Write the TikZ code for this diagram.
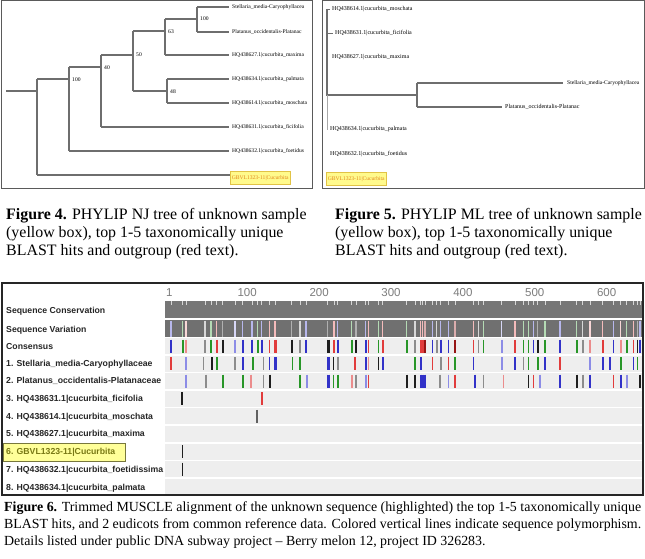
\documentclass[tikz,border=0pt]{standalone}
\usepackage{fontspec}
\setmainfont{Liberation Serif}
\newfontfamily\lsans{Liberation Sans}
\definecolor{treeg}{RGB}{110,110,110}
\definecolor{frameg}{RGB}{90,90,90}
\definecolor{boxfill}{RGB}{255,250,140}
\definecolor{boxdraw}{RGB}{225,195,70}
\definecolor{boxtext}{RGB}{225,135,30}
\definecolor{cb}{RGB}{50,50,200}
\definecolor{cg}{RGB}{40,150,40}
\definecolor{cr}{RGB}{225,60,60}
\definecolor{ck}{RGB}{30,30,30}
\definecolor{cy}{RGB}{140,140,140}
\definecolor{cl}{RGB}{140,140,230}
\definecolor{cp}{RGB}{235,140,140}
\definecolor{cdr}{RGB}{150,20,20}
\definecolor{rowbg}{RGB}{238,238,238}
\definecolor{bandg}{RGB}{118,118,118}
\definecolor{rulerg}{RGB}{125,125,125}
\definecolor{labyel}{RGB}{255,255,153}
\definecolor{labyeltext}{RGB}{120,120,20}
\definecolor{labyeldraw}{RGB}{120,120,60}
\tikzset{
  branch/.style={draw=treeg, line width=1.8pt},
  thinbranch/.style={draw=treeg, line width=0.8pt},
  leaf/.style={anchor=west, inner sep=0pt, font=\fontsize{5.6}{6}\selectfont},
  leaffive/.style={anchor=west, inner sep=0pt, font=\fontsize{6}{6.5}\selectfont},
  boot/.style={anchor=west, inner sep=0pt, font=\fontsize{5.6}{6}\selectfont},
  unkbox/.style={anchor=west, inner sep=1.5pt, minimum height=13pt, fill=boxfill, draw=boxdraw, line width=0.6pt, text=boxtext, font=\fontsize{5.6}{6}\selectfont},
  panel/.style={draw=frameg, line width=1pt},
  captxt/.style={anchor=base west, inner sep=0pt, font=\fontsize{15.9}{18}\selectfont},
  captxtsix/.style={anchor=base west, inner sep=0pt, font=\fontsize{13.9}{16}\selectfont},
  rowlabel/.style={anchor=west, inner sep=0pt, font=\lsans\bfseries\fontsize{8.7}{10}\selectfont, text=black!85},
  ruler/.style={anchor=west, inner sep=0pt, font=\lsans\fontsize{11.5}{12}\selectfont, text=rulerg},
}
\newcommand\seqlines[2]{\foreach \x/\c in {#2} \draw[color=\c, line width=1.6pt] (\x,{339.5+17.6*#1}) -- (\x,{352.5+17.6*#1});}
\begin{document}
\begin{tikzpicture}[x=1pt,y=-1pt]
\useasboundingbox (0,0) rectangle (645,559);
\fill[white] (0,0) rectangle (645,559);

% ---------------- Figure 4 panel ----------------
\draw[panel] (1,0.5) rectangle (312,188);
\coordinate (t4r) at (6,91);
\coordinate (j0t) at (37,79);  \coordinate (j0b) at (37,175);
\coordinate (j1t) at (69,67);  \coordinate (j1b) at (69,151);
\coordinate (j2t) at (101,55); \coordinate (j2b) at (101,127);
\coordinate (j3t) at (133,31); \coordinate (j3b) at (133,91);
\coordinate (j4t) at (165,19); \coordinate (j4b) at (165,55);
\coordinate (j5t) at (167,79); \coordinate (j5b) at (167,103);
\coordinate (j6t) at (197,7);  \coordinate (j6b) at (197,32);

\node[leaf] (l1) at (232,7) {Stellaria\_media-Caryophyllacea};
\node[leaf] (l2) at (232,32) {Platanus\_occidentalis-Platanac};
\node[leaf] (l3) at (232,55) {HQ438627.1|cucurbita\_maxima};
\node[leaf] (l4) at (232,79) {HQ438634.1|cucurbita\_palmata};
\node[leaf] (l5) at (232,103) {HQ438614.1|cucurbita\_moschata};
\node[leaf] (l6) at (232,127) {HQ438631.1|cucurbita\_ficifolia};
\node[leaf] (l7) at (232,151) {HQ438632.1|cucurbita\_foetidus};
\node[unkbox] (l8) at (230,178) {GBVL1323-11|Cucurbita};

\draw[branch] (t4r) -- (37,91);
\draw[branch] (j0t) -- (j0b);
\draw[branch] (j0t) -- (69,79);
\draw[branch] (j1t) -- (j1b);
\draw[branch] (j1t) -- (101,67);
\draw[branch] (j2t) -- (j2b);
\draw[branch] (j2t) -- (133,55);
\draw[branch] (j3t) -- (j3b);
\draw[branch] (j3t) -- (165,31);
\draw[branch] (j4t) -- (j4b);
\draw[branch] (j3b) -- (167,91);
\draw[branch] (j5t) -- (j5b);
\draw[branch] (j4t) -- (197,19);
\draw[branch] (j6t) -- (j6b);
\draw[branch, shorten >=3pt] (j6t) -- (l1.west);
\draw[branch, shorten >=3pt] (j6b) -- (l2.west);
\draw[branch, shorten >=3pt] (j4b) -- (l3.west);
\draw[branch, shorten >=3pt] (j5t) -- (l4.west);
\draw[branch, shorten >=3pt] (j5b) -- (l5.west);
\draw[branch, shorten >=3pt] (j2b) -- (l6.west);
\draw[branch, shorten >=3pt] (j1b) -- (l7.west);
\draw[branch] (j0b) -- (l8.west |- j0b);

\node[boot] (b1) at (72,80) {100};
\node[boot] (b2) at (104,68) {40};
\node[boot] (b3) at (136,55) {50};
\node[boot] (b4) at (168,32) {63};
\node[boot] (b5) at (170,92) {48};
\node[boot] (b6) at (200,19) {100};

% ---------------- Figure 5 panel ----------------
\draw[panel] (322,0.5) rectangle (644,188);
\coordinate (k0t) at (327,9);
\coordinate (k0) at (327,95);
\coordinate (k0b) at (327,130);
\coordinate (k1) at (417,95);
\coordinate (k1t) at (417,83);
\coordinate (k1b) at (417,107);
\coordinate (k0m) at (327,33);

\node[leaffive] (m1) at (332,9) {HQ438614.1|cucurbita\_moschata};
\node[leaffive] (m2) at (335,33) {HQ438631.1|cucurbita\_ficifolia};
\node[leaffive] (m3) at (332,57) {HQ438627.1|cucurbita\_maxima};
\node[leaffive] (m4) at (330,129) {HQ438634.1|cucurbita\_palmata};
\node[leaffive] (m5) at (330,154) {HQ438632.1|cucurbita\_foetidus};
\node[unkbox] (m6) at (326,179) {GBVL1323-11|Cucurbita};
\node[leaf] (m7) at (567,83) {Stellaria\_media-Caryophyllacea};
\node[leaffive] (m8) at (505,107) {Platanus\_occidentalis-Platanac};

\draw[branch] (k0t) -- (k0) -- (k1);
\draw[thinbranch, draw=treeg!60] (k0) -- (k0b);
\draw[thinbranch] (k0t) -- ([xshift=-2pt]m1.west);
\draw[thinbranch] (k0m) -- ([xshift=-2pt]m2.west);
\draw[branch] (k1t) -- (k1b);
\draw[branch, shorten >=4pt] (k1t) -- (m7.west);
\draw[branch, shorten >=3pt] (k1b) -- (m8.west);

% ---------------- Captions 4 and 5 ----------------
\node[captxt] (c4a) at (6,219) {\textbf{Figure 4.} PHYLIP NJ tree of unknown sample};
\node[captxt] (c4b) at (6,237) {(yellow box), top 1-5 taxonomically unique};
\node[captxt] (c4c) at (6,255) {BLAST hits and outgroup (red text).};
\node[captxt] (c5a) at (335,219) {\textbf{Figure 5.} PHYLIP ML tree of unknown sample};
\node[captxt] (c5b) at (335,237) {(yellow box), top 1-5 taxonomically unique};
\node[captxt] (c5c) at (335,255) {BLAST hits and outgroup (red text).};

% ---------------- Figure 6 panel ----------------
\fill[bandg] (165,301) rectangle (642,318);
\fill[bandg!95!black] (165,320) rectangle (642,337);
\foreach \i in {0,...,8} \fill[rowbg] (165,{338+17.6*\i}) rectangle (642,{354+17.6*\i});

\node[ruler] (r1) at (166,293) {1};
\foreach \k in {100,200,300,400,500,600} \node[ruler] (r\k) at ({165.5+0.719*\k},293) {\k};

\foreach \x/\c in {171/cb,182.7/cg,186/cp,205/cy,211/cg,216.7/cr,222.7/ck,235/cl,242.7/cb,252/cb,257.7/cg,261.7/cb,269.3/cr,275/cr,291.7/ck,300/cy,306/cb,327.3/ck,334/cr,337.7/cb,351.7/cg,356/ck,365.7/cb,368.3/cr,378.3/cg,382.7/cr,406.7/cg,415/cy,420.7/cr,422.7/cr,425/cdr,432.3/cb,436.7/cy,440.7/cb,448.3/cb,455/cdr,473.3/cr,478.3/cy,483.3/cg,501.7/cl,515/cr,523.3/cg,528.3/cg,533.3/cb,537.7/ck,545/cg,560/cb,576.7/cg,582.7/cy,590/cp,602.7/cr,613.3/cb,620.7/cp,626.7/cg,633.3/cr,637.3/ck,640/cb}{
  \draw[color=white!70!bandg, line width=0.8pt] (\x,301) -- (\x,304.5);
  \draw[color=\c!35!white, line width=1.3pt] (\x,320.5) -- (\x,336.5);
}

\seqlines{0}{171/cb,182.7/cg,186/cp,205/cy,211/cg,216.7/cr,222.7/ck,235/cl,242.7/cb,252/cb,257.7/cg,261.7/cb,269.3/cr,275/cr,276.5/cr,291.7/ck,300/cy,306/cb,327.3/ck,328.8/ck,334/cr,337.7/cb,351.7/cg,356/ck,365.7/cb,368.3/cr,378.3/cg,382.7/cr,406.7/cg,415/cy,420.7/cr,422.7/cr,425/cdr,432.3/cb,436.7/cy,440.7/cb,448.3/cb,455/cdr,473.3/cr,478.3/cy,483.3/cg,501.7/cl,515/cr,523.3/cg,528.3/cg,533.3/cb,537.7/ck,545/cg,560/cb,576.7/cg,582.7/cy,590/cp,602.7/cr,613.3/cb,620.7/cp,626.7/cg,633.3/cr,637.3/ck,640/cb}
\seqlines{1}{171/cr,186/cl,203.3/cy,211.7/ck,216.7/cg,235/cy,242.7/cb,252.7/cg,263.3/cy,269.3/cb,275/cb,276.5/cb,292.3/cg,300/cg,327.3/cb,328.8/cb,333.3/ck,337.7/cy,355/cr,365.7/cb,368.3/cp,378.3/ck,382.7/cb,415/cg,420.7/cb,432.3/cr,440.7/cy,448.3/cr,455/cg,473.3/cb,501.7/cl,515/cb,523.3/cy,528.3/cg,537.7/cg,545/cb,560/cr,590/cl,602.7/cb,610/cb,620.7/cg,633.3/cb,637.3/cg}
\seqlines{2}{186/cl,206/cy,222.7/cg,242.7/cg,250.7/cp,263.3/cy,270/ck,300/cg,306.7/cl,327.3/cb,328.8/cb,333.3/cg,337.7/cg,351.7/cp,356/cy,365.7/cl,368.3/cr,406.7/ck,415/ck,420.7/cb,422.7/cb,425/cb,440/cy,448.3/cl,455/cr,475/cb,483.3/cy,503.3/cp,528.3/ck,533.3/cr,540/cl,560/cb,576.7/ck,582.7/cy,590/cb,613.3/cr,620.7/cb,626.7/cl,640/ck}
\seqlines{3}{182/ck,262/cr}
\seqlines{4}{257/ck!70}
\seqlines{6}{182.5/ck}
\seqlines{7}{182.5/ck}

\node[rowlabel] (s0) at (6,311) {Sequence Conservation};
\node[rowlabel] (s1) at (6,330) {Sequence Variation};
\node[rowlabel] (s2) at (6,347) {Consensus};
\node[rowlabel] (s3) at (6,364) {1. Stellaria\_media-Caryophyllaceae};
\node[rowlabel] (s4) at (6,381) {2. Platanus\_occidentalis-Platanaceae};
\node[rowlabel] (s5) at (6,399) {3. HQ438631.1|cucurbita\_ficifolia};
\node[rowlabel] (s6) at (6,417) {4. HQ438614.1|cucurbita\_moschata};
\node[rowlabel] (s7) at (6,434) {5. HQ438627.1|cucurbita\_maxima};
\fill[labyel, draw=labyeldraw, line width=0.7pt] (3,443) rectangle (125,461);
\node[rowlabel, text=labyeltext] (s8) at (6,452) {6. GBVL1323-11|Cucurbita};
\node[rowlabel] (s9) at (6,470) {7. HQ438632.1|cucurbita\_foetidissima};
\node[rowlabel] (s10) at (6,488) {8. HQ438634.1|cucurbita\_palmata};

\draw[black!85, line width=1.3pt] (2,283) rectangle (643,495);

% ---------------- Caption 6 ----------------
\node[captxtsix] (c6a) at (4,511) {\makebox[637pt][s]{\textbf{Figure 6.} Trimmed MUSCLE alignment of the unknown sequence (highlighted) the top 1-5 taxonomically unique}};
\node[captxtsix] (c6b) at (4,528) {\makebox[637pt][s]{BLAST hits, and 2 eudicots from common reference data. Colored vertical lines indicate sequence polymorphism.}};
\node[captxtsix] (c6c) at (4,545) {Details listed under public DNA subway project -- Berry melon 12, project ID 326283.};
\end{tikzpicture}
\end{document}
